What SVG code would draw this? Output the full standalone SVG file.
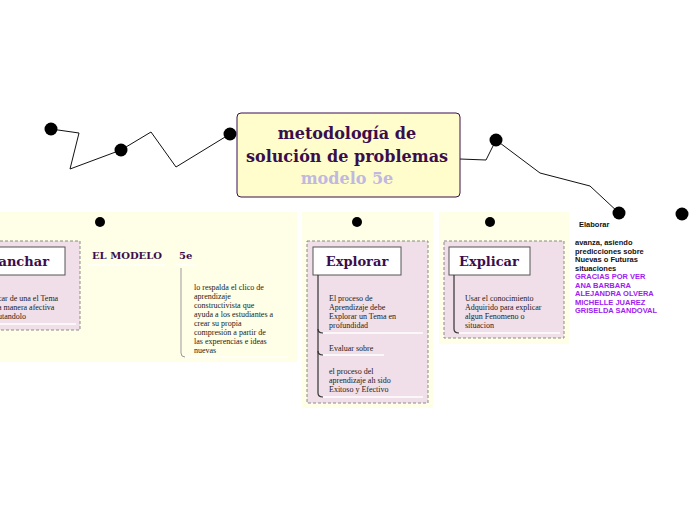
<svg xmlns="http://www.w3.org/2000/svg" width="697" height="520" viewBox="0 0 697 520">
<style>
.panel{fill:#fffee6}
.pink{fill:#f0dfe8;stroke:#8a8a8a;stroke-width:1;stroke-dasharray:3,2}
.hdr{fill:#fff;stroke:#555;stroke-width:1}
.ht{font-family:"DejaVu Serif",serif;font-weight:bold;font-size:13px;fill:#3a0d4d}
.t{font-family:"Liberation Serif",serif;font-size:8px;fill:#222}
.s{font-family:"Liberation Sans",sans-serif;font-weight:bold;font-size:7.5px;fill:#111}
.v{font-family:"Liberation Sans",sans-serif;font-weight:bold;font-size:7.5px;fill:#a020f0}
.ul{stroke:#fff;stroke-width:1.5}
.br{fill:none;stroke:#333;stroke-width:1.2}
.ln{fill:none;stroke:#111;stroke-width:1}
</style>
<rect width="697" height="520" fill="#fff"/>
<g id="connectors">
<polyline class="ln" points="51,129 79,133 70,169 121,150 151,132 176,167 230,134"/>
<polyline class="ln" points="460,159 486,160 496,140 540,173 590,186 619,213"/>
</g>
<g id="dots" fill="#000">
<circle cx="51" cy="129" r="6.5"/><circle cx="121" cy="150" r="6.5"/><circle cx="230" cy="134" r="6.5"/>
<circle cx="496" cy="140" r="6.5"/><circle cx="619" cy="213" r="6.5"/><circle cx="682" cy="214" r="6.5"/>
</g>
<g id="center">
<rect x="237" y="113" width="223" height="84" rx="4" fill="#fffdcc" stroke="#3a0d4d" stroke-width="1"/>
<text x="347" y="139" text-anchor="middle" font-family="DejaVu Serif,serif" font-weight="bold" font-size="16" fill="#3a0d4d">metodología de</text>
<text x="347" y="162" text-anchor="middle" font-family="DejaVu Serif,serif" font-weight="bold" font-size="16" fill="#3a0d4d">solución de problemas</text>
<text x="347" y="184" text-anchor="middle" font-family="DejaVu Serif,serif" font-weight="bold" font-size="16" fill="#c0b8e0">modelo 5e</text>
</g>
<g id="enganchar">
<rect class="panel" x="0" y="212" width="297" height="150"/>
<circle cx="100" cy="222" r="5" fill="#000"/>
<rect class="pink" x="-5" y="241" width="85" height="89"/>
<rect class="hdr" x="-20" y="247" width="85" height="28"/>
<text class="ht" x="49" y="266" text-anchor="end">Enganchar</text>
<text class="t" x="-2" y="301">car de una el Tema</text>
<text class="t" x="-2" y="310">a manera afectiva</text>
<text class="t" x="-2" y="319">utandolo</text>
<line class="ul" x1="0" y1="324" x2="76" y2="324"/>
<text x="92" y="259" font-family="DejaVu Serif,serif" font-weight="bold" font-size="10" fill="#3a0d4d">EL MODELO</text>
<line class="ul" x1="88" y1="265" x2="166" y2="265"/>
<text x="179" y="259" font-family="DejaVu Serif,serif" font-weight="bold" font-size="10" fill="#3a0d4d">5e</text>
<line class="ul" x1="175" y1="265" x2="196" y2="265"/>
<path d="M181,268 V353 Q181,357 185,357" fill="none" stroke="#999" stroke-width="1"/>
<line class="ul" x1="185" y1="357" x2="288" y2="357"/>
<text class="t" x="194" y="290">lo respalda el clico de</text>
<text class="t" x="194" y="299">aprendizaje</text>
<text class="t" x="194" y="308">constructivista que</text>
<text class="t" x="194" y="317">ayuda a los estudiantes a</text>
<text class="t" x="194" y="326">crear su propia</text>
<text class="t" x="194" y="335">compresión a partir de</text>
<text class="t" x="194" y="344">las experencias e ideas</text>
<text class="t" x="194" y="353">nuevas</text>
</g>
<g id="explorar">
<rect class="panel" x="302" y="212" width="131" height="196"/>
<circle cx="357" cy="222" r="5" fill="#000"/>
<rect class="pink" x="307" y="241" width="121" height="162"/>
<rect class="hdr" x="313" y="247" width="88" height="28"/>
<text class="ht" x="357" y="266" text-anchor="middle">Explorar</text>
<path class="br" d="M318,275 V393 Q318,397 323,397"/>
<path class="br" d="M318,329 Q318,333 323,333 M318,351 Q318,355 323,355"/>
<text class="t" x="329" y="301">El proceso de</text>
<text class="t" x="329" y="310">Aprendizaje debe</text>
<text class="t" x="329" y="319">Explorar un Tema en</text>
<text class="t" x="329" y="328">profundidad</text>
<line class="ul" x1="323" y1="333" x2="423" y2="333"/>
<text class="t" x="329" y="351">Evaluar sobre</text>
<line class="ul" x1="323" y1="355" x2="384" y2="355"/>
<text class="t" x="329" y="374">el proceso del</text>
<text class="t" x="329" y="383">aprendizaje ah sido</text>
<text class="t" x="329" y="392">Exitoso y Efectivo</text>
<line class="ul" x1="323" y1="397" x2="423" y2="397"/>
</g>
<g id="explicar">
<rect class="panel" x="439" y="212" width="130" height="132"/>
<circle cx="490" cy="222" r="5" fill="#000"/>
<rect class="pink" x="444" y="241" width="120" height="97"/>
<rect class="hdr" x="449" y="247" width="81" height="28"/>
<text class="ht" x="489" y="266" text-anchor="middle">Explicar</text>
<path class="br" d="M454,275 V329 Q454,333 459,333"/>
<text class="t" x="465" y="301">Usar el conocimiento</text>
<text class="t" x="465" y="310">Adquirido para explicar</text>
<text class="t" x="465" y="319">algun Fenomeno o</text>
<text class="t" x="465" y="328">situacion</text>
<line class="ul" x1="459" y1="333" x2="560" y2="333"/>
</g>
<g id="elaborar">
<text class="s" x="579" y="227">Elaborar</text>
<text class="s" x="575" y="245">avanza, asiendo</text>
<text class="s" x="575" y="254">predicciones sobre</text>
<text class="s" x="575" y="262">Nuevas o Futuras</text>
<text class="s" x="575" y="271">situaciones</text>
<text class="v" x="575" y="279">GRACIAS POR VER</text>
<text class="v" x="575" y="288">ANA BARBARA</text>
<text class="v" x="575" y="296">ALEJANDRA OLVERA</text>
<text class="v" x="575" y="305">MICHELLE  JUAREZ</text>
<text class="v" x="575" y="313">GRISELDA SANDOVAL</text>
</g>
</svg>
